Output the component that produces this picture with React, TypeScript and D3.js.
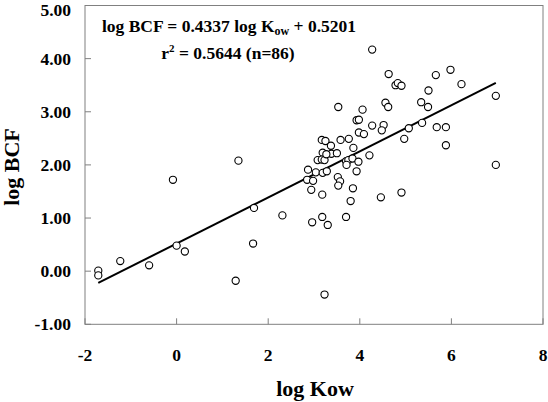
import * as d3 from 'd3'

// log Kow / log BCF pairs
const logKow = [
  -1.71, -1.71, -1.23, -0.6, 0.0, 0.18, 1.29, 1.67, 1.69, -0.08,
  1.35, 2.31, 4.27, 4.63, 4.78, 4.83, 4.91, 5.66, 5.98, 6.22,
  5.5, 4.56, 4.62, 5.34, 5.49, 6.97, 4.52, 4.48, 5.07, 5.36,
  5.68, 5.88, 4.97, 5.88, 6.97, 3.53, 4.06, 3.93, 3.98, 4.27,
  3.98, 4.09, 3.58, 3.76, 3.17, 3.25, 3.37, 3.86, 3.19, 3.38,
  3.5, 3.08, 3.17, 3.23, 3.7, 3.75, 3.84, 3.97, 4.21, 3.71,
  3.93, 2.87, 3.04, 3.19, 3.28, 2.85, 2.98, 3.52, 3.57, 3.53,
  3.85, 2.94, 3.18, 3.8, 4.46, 4.91, 2.96, 3.18, 3.3, 3.7,
  3.23, 3.27,
]
const logBCF = [
  0.01, -0.08, 0.19, 0.11, 0.48, 0.37, -0.18, 0.52, 1.19, 1.72,
  2.08, 1.05, 4.17, 3.71, 3.5, 3.54, 3.49, 3.69, 3.79, 3.52,
  3.4, 3.17, 3.09, 3.18, 3.09, 3.3, 2.75, 2.65, 2.69, 2.79,
  2.71, 2.71, 2.49, 2.37, 2.0, 3.09, 3.04, 2.84, 2.85, 2.74,
  2.61, 2.58, 2.47, 2.49, 2.47, 2.45, 2.36, 2.32, 2.23, 2.21,
  2.22, 2.09, 2.1, 2.09, 2.07, 2.09, 2.12, 2.06, 2.18, 2.0,
  1.88, 1.91, 1.86, 1.85, 1.88, 1.72, 1.7, 1.77, 1.69, 1.61,
  1.56, 1.53, 1.44, 1.32, 1.39, 1.48, 0.92, 1.02, 0.87, 1.02,
  -0.44, 2.2,
]

const slope = 0.4337
const intercept = 0.5201
const xTicks = [-2, 0, 2, 4, 6, 8]
const yTicks = [-1, 0, 1, 2, 3, 4, 5]

const W = 548
const H = 402
const left = 85
const right = 543
const top = 5.5
const bottom = 324.3
const font = '"Liberation Serif", "Times New Roman", serif'
const frame = '#808080'

export default function App() {
  const x = d3.scaleLinear().domain([-2, 8]).range([left, right])
  const y = d3.scaleLinear().domain([-1, 5]).range([bottom, top])

  const [xMin, xMax] = d3.extent(logKow) as [number, number]
  const fit = d3.line<number>()
    .x(d => x(d))
    .y(d => y(slope * d + intercept))

  return (
    <svg
      width={W}
      height={H}
      style={{ position: 'fixed', left: 0, top: 0, background: '#fff' }}
      fontFamily={font}
      fontWeight="bold"
    >
      <rect x={left} y={top} width={right - left} height={bottom - top}
        fill="none" stroke={frame} strokeWidth={1} />

      {xTicks.map(t => (
        <g key={'x' + t}>
          <line x1={x(t)} x2={x(t)} y1={bottom} y2={bottom - 6} stroke={frame} />
          <text x={x(t)} y={361} textAnchor="middle" fontSize={17.5}>{t}</text>
        </g>
      ))}

      {yTicks.map(t => (
        <g key={'y' + t}>
          <line x1={left} x2={left + 6} y1={y(t)} y2={y(t)} stroke={frame} />
          <text x={71} y={Math.max(y(t) + 6, 16)} textAnchor="end" fontSize={17.5}>{t.toFixed(2)}</text>
        </g>
      ))}

      <path d={fit([xMin, xMax]) ?? ''} fill="none" stroke="#000" strokeWidth={2} />

      {logKow.map((k, i) => (
        <circle key={i} cx={x(k)} cy={y(logBCF[i])} r={3.6}
          fill="#fff" stroke="#000" strokeWidth={1.1} />
      ))}

      <text x={229} y={32} textAnchor="middle" fontSize={17.5}>
        log BCF = 0.4337 log K<tspan fontSize={12} dy={3}>ow</tspan>
        <tspan dy={-3}> + 0.5201</tspan>
      </text>
      <text x={228} y={59} textAnchor="middle" fontSize={17.5}>
        r<tspan fontSize={11} dy={-7}>2</tspan><tspan dy={7}> = 0.5644 (n=86)</tspan>
      </text>

      <text x={315} y={396} textAnchor="middle" fontSize={22}>log Kow</text>
      <text transform="translate(19,167) rotate(-90)" textAnchor="middle" fontSize={22}>log BCF</text>
    </svg>
  )
}
